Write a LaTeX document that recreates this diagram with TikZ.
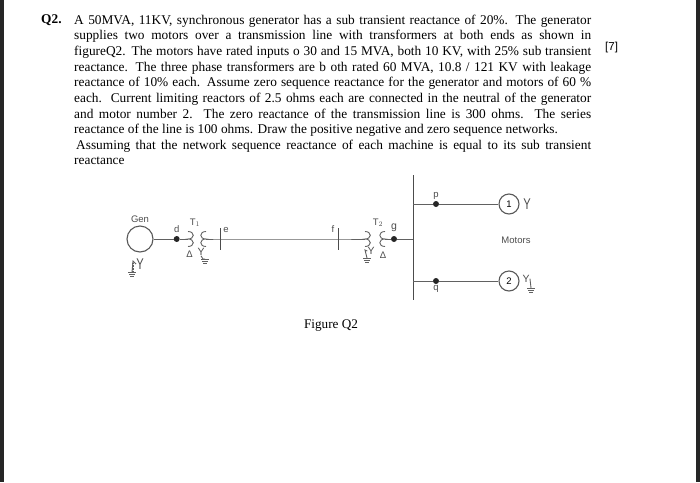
\documentclass[tikz,border=0pt]{standalone}
\usepackage{fontspec}
\setmainfont{Liberation Serif}
\newfontfamily\labelfont{Liberation Sans}
\usetikzlibrary{positioning}

\tikzset{
  wire/.style={draw=black!62,line width=0.9pt},
  bus/.style={draw=black!70,line width=0.95pt},
  busdot/.style={circle,fill=black!85,inner sep=0pt,minimum size=6pt},
  machine/.style={circle,draw=black!65,line width=1.1pt,inner sep=0pt,font=\labelfont\fontsize{9.5}{10}\selectfont},
  tag/.style={inner sep=0pt,text=black!70,font=\labelfont\fontsize{9.5}{10}\selectfont},
  star/.style={inner sep=0pt,text=black!70,xscale=0.72,transform shape,font=\labelfont\fontsize{15.5}{16}\selectfont},
  smallstar/.style={inner sep=0pt,text=black!70,font=\labelfont\fontsize{10.5}{11}\selectfont},
  body/.style={anchor=north west,inner sep=0pt,font=\fontsize{13.35}{15.65}\selectfont},
  coil/.pic={\draw[wire] (0,-7.5) .. controls (7,-7.5) and (7,0) .. (0,0) .. controls (7,0) and (7,7.5) .. (0,7.5);},
  earth/.pic={
    \draw[wire] (-4,0.5) -- (4,0.5) (-3,2.3) -- (3,2.3) (-2,4) -- (2,4);
  },
}

\begin{document}
\begin{tikzpicture}[x=1pt,y=-1pt]
  \useasboundingbox (0,0) rectangle (700,482);
  \fill[black!85] (0,0) rectangle (4,482);
  \fill[black!85] (695.5,0) rectangle (700,482);

  % question text
  \node [body] (qnum) at (41,14.5) {\bfseries Q2.};
  \node [body,text width=517pt,align=justify] (qtext) at (74,14.5) {
    A 50MVA, 11KV, synchronous generator has a sub transient reactance of 20\%. The generator\linebreak
    supplies two motors over a transmission line with transformers at both ends as shown in\linebreak
    figureQ2. The motors have rated inputs o 30 and 15 MVA, both 10 KV, with 25\% sub transient\linebreak
    reactance. The three phase transformers are b oth rated 60 MVA, 10.8 / 121 KV with leakage\linebreak
    reactance of 10\% each. Assume zero sequence reactance for the generator and motors of 60 \%\linebreak
    each.\ \ Current limiting reactors of 2.5 ohms each are connected in the neutral of the generator\linebreak
    and motor number 2. The zero reactance of the transmission line is 300 ohms. The series\linebreak
    reactance of the line is 100 ohms. Draw the positive negative and zero sequence networks.\newline
    \hspace*{2pt}Assuming that the network sequence reactance of each machine is equal to its sub transient\linebreak
    reactance};
  \node [anchor=west,inner sep=0pt,font=\labelfont\fontsize{11.5}{12}\selectfont] (marks) at (605,48) {[7]};

  % generator side
  \node [machine,minimum size=26pt] (gen) at (140,239) {};
  \node [tag] (genlabel) at (140,219) {Gen};
  \node [busdot] (d) at (176.7,239) {};
  \node [tag] (dlabel) at (176.7,229) {d};
  \coordinate (t1a) at (188,239);
  \coordinate (t1b) at (206,239);
  \pic at (t1a) {coil};
  \pic [xscale=-1] at (t1b) {coil};
  \node [tag] (t1label) at (195,223) {T$_{1}$};
  \node [tag] (t1delta) at (189.5,254) {Δ};
  \node [smallstar] (t1star) at (201,252) {Y};
  \coordinate (t1earth) at (205,259);
  \draw [wire] (t1star.south) -- (203,259) -- (t1earth);
  \pic at (t1earth) {earth};
  \node [star] (genstar) at (140,264) {Y};
  \coordinate (genearth) at (132,272);
  \draw [wire] (genstar.west) -- (133,261) -- (genearth);
  \draw [wire,line width=2.2pt,dash pattern=on 0.8pt off 0.7pt] (133,263) -- (133,272);
  \pic at (genearth) {earth};

  % line buses
  \coordinate (etop) at (220,228);
  \coordinate (ebot) at (220,249.5);
  \coordinate (ftop) at (338,228);
  \coordinate (fbot) at (338,250);
  \coordinate (eline) at (220,239);
  \coordinate (fline) at (338,239);
  \node [tag] (elabel) at (226,230) {e};
  \node [tag] (flabel) at (333,229) {f};

  % motor side
  \coordinate (t2a) at (365,239);
  \coordinate (t2b) at (385,239);
  \pic at (t2a) {coil};
  \pic [xscale=-1] at (t2b) {coil};
  \node [tag] (t2label) at (378,223) {T$_{2}$};
  \node [tag] (t2delta) at (383,255) {Δ};
  \node [smallstar] (t2star) at (371,251) {Y};
  \coordinate (t2earth) at (367,258);
  \draw [wire] (t2star.west) -- (365,250) -- (t2earth);
  \pic at (t2earth) {earth};
  \node [busdot] (g) at (394,239) {};
  \node [tag,font=\labelfont\fontsize{10.5}{11}\selectfont] (glabel) at (394,228) {g};
  \coordinate (mtop) at (413,175);
  \coordinate (mbot) at (413,300);
  \coordinate (mline) at (413,239);
  \coordinate (pline) at (413,204);
  \coordinate (qline) at (413,281);
  \node [busdot] (p) at (436,204) {};
  \node [tag] (plabel) at (436,195.5) {p};
  \node [busdot] (q) at (436,281) {};
  \node [tag] (qlabel) at (436,289) {q};
  \node [machine,minimum size=20pt] (m1) at (509,204) {1};
  \node [machine,minimum size=20pt] (m2) at (509,281) {2};
  \node [star] (m1star) at (527,204) {Y};
  \node [smallstar] (m2star) at (526,279) {Y};
  \coordinate (m2earth) at (531,288);
  \draw [wire] (m2star.east) -- (530,279) -- (m2earth);
  \pic at (m2earth) {earth};
  \node [tag] (motors) at (516,240) {Motors};
  \node [inner sep=0pt,font=\fontsize{13.2}{14}\selectfont] (figcap) at (331,325.5) {Figure Q2};

  % connectors
  \draw [wire] (gen) -- (d) -- (t1a);
  \draw [wire] (t1b) -- (eline) -- (fline) -- (t2a);
  \draw [wire] (t2b) -- (g) -- (mline);
  \draw [bus] (etop) -- (ebot);
  \draw [bus] (ftop) -- (fbot);
  \draw [bus] (mtop) -- (mbot);
  \draw [wire] (pline) -- (p) -- (m1);
  \draw [wire] (qline) -- (q) -- (m2);
\end{tikzpicture}
\end{document}
